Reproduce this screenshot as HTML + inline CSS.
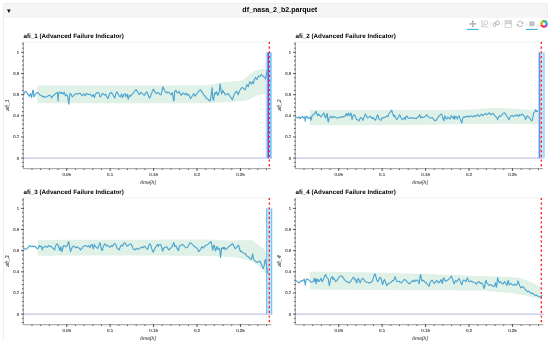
<!DOCTYPE html>
<html><head><meta charset="utf-8"><style>
html,body{margin:0;padding:0;background:#fff;width:550px;height:346px;overflow:hidden;font-family:"Liberation Sans",sans-serif}
.lb{position:absolute;left:3px;top:8px;width:1px;height:332px;background:#ededed}
.hdr{position:absolute;left:3px;top:3px;width:543px;height:14px;background:#f5f5f5;border:0.6px solid #ededed;border-bottom:none;border-radius:3px 3px 0 0}
.tri{position:absolute;left:5.8px;top:7.6px;font-size:6.3px;line-height:1;color:#111}
.htitle{position:absolute;left:242.3px;top:6.5px;font-size:7.1px;line-height:1;font-weight:bold;color:#000;white-space:nowrap}
.tx{font-size:4.4px;fill:#333;stroke:#333;stroke-width:0.1px;font-family:"Liberation Sans",sans-serif}
.ty{font-size:4.2px;fill:#333;stroke:#333;stroke-width:0.1px;font-family:"Liberation Sans",sans-serif}
.al{font-size:5.2px;fill:#444;stroke:#444;stroke-width:0.06px;font-style:italic;font-family:"Liberation Sans",sans-serif}
.yl{font-size:5.6px;letter-spacing:-0.2px}
.ti{font-size:6.25px;font-weight:bold;fill:#000;font-family:"Liberation Sans",sans-serif}
</style></head><body>
<div class="lb"></div>
<div class="hdr"></div>
<div class="tri">&#9660;</div>
<div class="htitle">df_nasa_2_b2.parquet</div>
<svg width="550" height="346" viewBox="0 0 550 346" style="position:absolute;left:0;top:0" text-rendering="geometricPrecision"><line x1="23.3" y1="41.9" x2="271.1" y2="41.9" stroke="#f1f1f1" stroke-width="0.9"/><polygon points="37.3,85.5 40.2,85.5 43.09,85.5 45.99,85.5 48.89,85.5 51.79,85.5 54.68,85.5 57.58,85.5 60.48,85.5 63.38,85.5 66.27,85.5 69.17,85.5 72.07,85.5 74.97,85.49 77.86,85.49 80.76,85.49 83.66,85.49 86.56,85.49 89.45,85.49 92.35,85.49 95.25,85.49 98.15,85.48 101.04,85.48 103.94,85.48 106.84,85.48 109.74,85.48 112.63,85.47 115.53,85.47 118.43,85.47 121.33,85.46 124.22,85.46 127.12,85.46 130.02,85.45 132.92,85.45 135.81,85.45 138.71,85.44 141.61,85.44 144.51,85.43 147.4,85.43 150.3,85.42 153.2,85.42 156.1,85.41 158.99,85.41 161.89,85.4 164.79,85.4 167.69,85.39 170.58,85.38 173.48,85.38 176.38,85.37 179.28,85.36 182.17,85.36 185.07,85.35 187.97,85.34 190.87,85.33 193.76,85.33 196.66,85.32 199.56,85.31 202.46,85.3 205.35,85.17 208.25,84.88 211.15,84.48 214.05,84 216.94,83.49 219.84,82.98 222.74,82.51 225.64,82.12 228.53,81.84 231.43,81.6 234.33,81.36 237.23,81.06 240.12,80.65 243.02,80 245.92,77.85 248.82,75.1 251.71,72.98 254.61,71.06 257.51,69.9 260.41,69.21 263.3,69.01 266.2,69.4 266.2,94 263.3,94.17 260.41,94.58 257.51,95.34 254.61,96.63 251.71,98.12 248.82,99.78 245.92,100.62 243.02,101.02 240.12,101.34 237.23,101.59 234.33,101.79 231.43,101.97 228.53,102.12 225.64,102.27 222.74,102.42 219.84,102.58 216.94,102.74 214.05,102.88 211.15,103 208.25,103.1 205.35,103.17 202.46,103.2 199.56,103.2 196.66,103.2 193.76,103.2 190.87,103.2 187.97,103.2 185.07,103.2 182.17,103.2 179.28,103.2 176.38,103.2 173.48,103.2 170.58,103.2 167.69,103.2 164.79,103.2 161.89,103.2 158.99,103.2 156.1,103.2 153.2,103.2 150.3,103.2 147.4,103.2 144.51,103.2 141.61,103.2 138.71,103.2 135.81,103.2 132.92,103.2 130.02,103.2 127.12,103.2 124.22,103.2 121.33,103.2 118.43,103.2 115.53,103.2 112.63,103.2 109.74,103.2 106.84,103.2 103.94,103.2 101.04,103.2 98.15,103.2 95.25,103.2 92.35,103.2 89.45,103.2 86.56,103.2 83.66,103.2 80.76,103.2 77.86,103.2 74.97,103.2 72.07,103.2 69.17,103.2 66.27,103.2 63.38,103.2 60.48,103.2 57.58,103.2 54.68,103.2 51.79,103.2 48.89,103.2 45.99,103.2 43.09,103.2 40.2,103.2 37.3,103.2" fill="#e0f1e7"/><line x1="23.3" y1="158.1" x2="272.15" y2="158.1" stroke="#c4c4e4" stroke-width="1.3"/><rect x="265.59" y="52.4" width="6.1" height="105.7" fill="#c7d9fa"/><rect x="267.49" y="52.4" width="1.5" height="105.7" fill="#3f62ee"/><rect x="269.79" y="52.4" width="1.8" height="105.7" fill="#7cc8f6"/><polyline points="23.69,94.66 24.82,91.84 25.95,91.27 27.07,92.97 28.2,94.66 29.33,96.35 30.46,93.53 31.58,97.47 32.71,90.71 33.27,90.15 33.84,96.91 34.97,94.66 36.09,93.53 37.22,92.4 38.35,92.97 39.47,94.66 40.6,95.22 41.73,95.78 42.86,96.91 43.98,96.35 45.11,97.47 46.24,96.91 47.37,96.35 48.49,95.78 49.62,95.22 50.75,96.35 51.88,98.04 53,95.78 54.13,94.66 55.26,94.09 56.39,92.97 57.51,92.4 58.08,100.86 58.64,93.53 59.77,91.84 60.9,93.53 62.02,92.4 63.15,94.09 64.28,92.4 65.4,95.78 66.53,94.66 67.66,96.35 68.79,104.24 69.91,93.53 71.04,94.09 72.17,96.91 73.3,95.78 74.42,94.66 75.55,94.09 76.68,93.53 77.81,94.09 78.93,93.53 80.06,92.97 81.19,94.66 82.32,95.78 83.13,94.66 83.44,94.09 84.25,94.09 85.38,95.78 86.51,93.53 87.64,94.09 88.76,94.66 89.89,94.09 91.02,95.22 92.15,96.35 93.27,94.66 94.4,97.47 95.53,94.09 96.66,92.97 97.78,92.4 98.91,92.97 100.04,96.91 101.17,95.78 102.29,93.53 103.42,94.09 104.55,95.22 105.68,94.09 106.8,96.91 107.93,98.6 109.06,95.22 110.18,92.97 111.31,92.4 112.44,94.09 113.57,95.78 114.69,98.04 115.82,93.53 116.95,91.84 118.08,94.09 119.2,95.78 120.33,96.91 121.46,94.09 122.59,97.47 123.71,94.66 124.84,93.53 125.97,96.91 127.1,94.09 128.22,99.17 129.35,95.22 130.48,96.35 131.61,94.66 132.73,93.53 133.86,92.4 134.99,90.71 136.11,89.58 137.24,91.27 138.37,93.53 139.5,94.66 140.62,92.4 141.75,92.97 142.88,94.09 144.25,95.29 145.38,93.6 146.51,91.91 147.64,93.04 148.76,96.98 149.89,98.11 151.02,94.73 152.15,91.91 153.27,89.09 154.4,90.78 155.53,93.04 156.66,93.6 157.78,92.47 158.91,93.04 160.04,94.73 161.17,94.73 162.29,89.09 162.86,86.84 163.42,87.97 164.55,90.78 165.68,91.91 166.8,93.04 167.93,91.91 169.06,92.47 170.18,93.6 171.31,94.73 172.44,92.47 173.57,100.93 174.13,100.37 174.69,91.35 175.82,90.22 176.95,92.47 178.08,93.04 179.2,91.35 180.33,94.17 181.46,95.29 182.59,93.04 183.71,93.6 184.84,94.73 185.97,93.04 187.1,95.29 188.22,94.17 189.35,95.86 190.48,98.68 191.61,96.98 192.73,95.29 193.86,93.6 194.99,96.42 196.11,94.73 197.24,93.04 198.37,91.91 199.5,90.22 200.62,89.66 201.75,91.91 202.88,93.04 203.45,94.71 204.89,96.16 206.34,98.33 207.79,99.05 209.23,100.5 209.95,101.22 210.68,99.05 211.4,93.27 212.12,87.48 212.85,99.05 213.57,100.5 214.29,94.71 215.02,92.54 215.74,93.99 216.46,91.82 217.91,95.44 219.36,91.1 220.08,83.86 220.8,88.93 221.53,93.99 222.25,92.54 222.97,90.37 223.7,92.54 224.42,92.54 225.14,94.71 226.59,94.71 228.03,93.27 229.48,95.44 230.93,97.6 232.37,99.77 233.1,97.6 233.82,95.44 235.27,92.54 236.71,91.1 238.16,94.71 238.88,92.54 239.6,91.1 241.05,88.2 242.5,87.48 243.94,88.93 245.39,89.65 246.11,86.76 246.84,84.59 248.28,86.76 249.73,81.7 251.18,83.86 252.62,81.7 253.35,83.86 254.07,80.25 255.51,77.36 256.96,79.53 258.41,75.91 259.85,76.63 261.3,74.46 262.75,75.91 264.19,77.36 265.64,78.8 266.36,74.46 267.09,70.85 267.81,69.4" fill="none" stroke="#4aa3d0" stroke-width="1.1" stroke-linejoin="round"/><line x1="269.29" y1="41.9" x2="269.29" y2="168.7" stroke="#ff1a1a" stroke-width="1.3" stroke-dasharray="2.2,2.5"/><line x1="23.3" y1="41.9" x2="23.3" y2="168.7" stroke="#7a7a7a" stroke-width="0.75"/><line x1="23.3" y1="168.7" x2="271.1" y2="168.7" stroke="#7a7a7a" stroke-width="0.75"/><line x1="22" y1="166.56" x2="23.5" y2="166.56" stroke="#505050" stroke-width="0.95"/><line x1="22" y1="162.33" x2="23.5" y2="162.33" stroke="#505050" stroke-width="0.95"/><line x1="21" y1="158.1" x2="24.1" y2="158.1" stroke="#505050" stroke-width="0.95"/><text x="19" y="159.6" text-anchor="end" class="ty">0</text><line x1="22" y1="153.87" x2="23.5" y2="153.87" stroke="#505050" stroke-width="0.95"/><line x1="22" y1="149.64" x2="23.5" y2="149.64" stroke="#505050" stroke-width="0.95"/><line x1="22" y1="145.42" x2="23.5" y2="145.42" stroke="#505050" stroke-width="0.95"/><line x1="22" y1="141.19" x2="23.5" y2="141.19" stroke="#505050" stroke-width="0.95"/><line x1="21" y1="136.96" x2="24.1" y2="136.96" stroke="#505050" stroke-width="0.95"/><text x="19" y="138.46" text-anchor="end" class="ty">0.2</text><line x1="22" y1="132.73" x2="23.5" y2="132.73" stroke="#505050" stroke-width="0.95"/><line x1="22" y1="128.5" x2="23.5" y2="128.5" stroke="#505050" stroke-width="0.95"/><line x1="22" y1="124.28" x2="23.5" y2="124.28" stroke="#505050" stroke-width="0.95"/><line x1="22" y1="120.05" x2="23.5" y2="120.05" stroke="#505050" stroke-width="0.95"/><line x1="21" y1="115.82" x2="24.1" y2="115.82" stroke="#505050" stroke-width="0.95"/><text x="19" y="117.32" text-anchor="end" class="ty">0.4</text><line x1="22" y1="111.59" x2="23.5" y2="111.59" stroke="#505050" stroke-width="0.95"/><line x1="22" y1="107.36" x2="23.5" y2="107.36" stroke="#505050" stroke-width="0.95"/><line x1="22" y1="103.14" x2="23.5" y2="103.14" stroke="#505050" stroke-width="0.95"/><line x1="22" y1="98.91" x2="23.5" y2="98.91" stroke="#505050" stroke-width="0.95"/><line x1="21" y1="94.68" x2="24.1" y2="94.68" stroke="#505050" stroke-width="0.95"/><text x="19" y="96.18" text-anchor="end" class="ty">0.6</text><line x1="22" y1="90.45" x2="23.5" y2="90.45" stroke="#505050" stroke-width="0.95"/><line x1="22" y1="86.22" x2="23.5" y2="86.22" stroke="#505050" stroke-width="0.95"/><line x1="22" y1="82" x2="23.5" y2="82" stroke="#505050" stroke-width="0.95"/><line x1="22" y1="77.77" x2="23.5" y2="77.77" stroke="#505050" stroke-width="0.95"/><line x1="21" y1="73.54" x2="24.1" y2="73.54" stroke="#505050" stroke-width="0.95"/><text x="19" y="75.04" text-anchor="end" class="ty">0.8</text><line x1="22" y1="69.31" x2="23.5" y2="69.31" stroke="#505050" stroke-width="0.95"/><line x1="22" y1="65.08" x2="23.5" y2="65.08" stroke="#505050" stroke-width="0.95"/><line x1="22" y1="60.86" x2="23.5" y2="60.86" stroke="#505050" stroke-width="0.95"/><line x1="22" y1="56.63" x2="23.5" y2="56.63" stroke="#505050" stroke-width="0.95"/><line x1="21" y1="52.4" x2="24.1" y2="52.4" stroke="#505050" stroke-width="0.95"/><text x="19" y="53.9" text-anchor="end" class="ty">1</text><line x1="22" y1="48.17" x2="23.5" y2="48.17" stroke="#505050" stroke-width="0.95"/><line x1="22" y1="43.94" x2="23.5" y2="43.94" stroke="#505050" stroke-width="0.95"/><line x1="31.99" y1="168.7" x2="31.99" y2="170" stroke="#505050" stroke-width="0.95"/><line x1="40.67" y1="168.7" x2="40.67" y2="170" stroke="#505050" stroke-width="0.95"/><line x1="49.36" y1="168.7" x2="49.36" y2="170" stroke="#505050" stroke-width="0.95"/><line x1="58.04" y1="168.7" x2="58.04" y2="170" stroke="#505050" stroke-width="0.95"/><line x1="66.73" y1="167.9" x2="66.73" y2="171" stroke="#505050" stroke-width="0.95"/><text x="66.73" y="175.5" text-anchor="middle" class="tx">0.05</text><line x1="75.42" y1="168.7" x2="75.42" y2="170" stroke="#505050" stroke-width="0.95"/><line x1="84.1" y1="168.7" x2="84.1" y2="170" stroke="#505050" stroke-width="0.95"/><line x1="92.79" y1="168.7" x2="92.79" y2="170" stroke="#505050" stroke-width="0.95"/><line x1="101.47" y1="168.7" x2="101.47" y2="170" stroke="#505050" stroke-width="0.95"/><line x1="110.16" y1="167.9" x2="110.16" y2="171" stroke="#505050" stroke-width="0.95"/><text x="110.16" y="175.5" text-anchor="middle" class="tx">0.1</text><line x1="118.85" y1="168.7" x2="118.85" y2="170" stroke="#505050" stroke-width="0.95"/><line x1="127.53" y1="168.7" x2="127.53" y2="170" stroke="#505050" stroke-width="0.95"/><line x1="136.22" y1="168.7" x2="136.22" y2="170" stroke="#505050" stroke-width="0.95"/><line x1="144.9" y1="168.7" x2="144.9" y2="170" stroke="#505050" stroke-width="0.95"/><line x1="153.59" y1="167.9" x2="153.59" y2="171" stroke="#505050" stroke-width="0.95"/><text x="153.59" y="175.5" text-anchor="middle" class="tx">0.15</text><line x1="162.28" y1="168.7" x2="162.28" y2="170" stroke="#505050" stroke-width="0.95"/><line x1="170.96" y1="168.7" x2="170.96" y2="170" stroke="#505050" stroke-width="0.95"/><line x1="179.65" y1="168.7" x2="179.65" y2="170" stroke="#505050" stroke-width="0.95"/><line x1="188.33" y1="168.7" x2="188.33" y2="170" stroke="#505050" stroke-width="0.95"/><line x1="197.02" y1="167.9" x2="197.02" y2="171" stroke="#505050" stroke-width="0.95"/><text x="197.02" y="175.5" text-anchor="middle" class="tx">0.2</text><line x1="205.71" y1="168.7" x2="205.71" y2="170" stroke="#505050" stroke-width="0.95"/><line x1="214.39" y1="168.7" x2="214.39" y2="170" stroke="#505050" stroke-width="0.95"/><line x1="223.08" y1="168.7" x2="223.08" y2="170" stroke="#505050" stroke-width="0.95"/><line x1="231.76" y1="168.7" x2="231.76" y2="170" stroke="#505050" stroke-width="0.95"/><line x1="240.45" y1="167.9" x2="240.45" y2="171" stroke="#505050" stroke-width="0.95"/><text x="240.45" y="175.5" text-anchor="middle" class="tx">0.25</text><line x1="249.14" y1="168.7" x2="249.14" y2="170" stroke="#505050" stroke-width="0.95"/><line x1="257.82" y1="168.7" x2="257.82" y2="170" stroke="#505050" stroke-width="0.95"/><line x1="266.51" y1="168.7" x2="266.51" y2="170" stroke="#505050" stroke-width="0.95"/><text x="148.1" y="184.1" text-anchor="middle" class="al">time[h]</text><text x="9.2" y="105.25" text-anchor="middle" class="al yl" transform="rotate(-90 9.2 105.25)">afi_1</text><text x="23.5" y="37.7" class="ti">afi_1 (Advanced Failure Indicator)</text><line x1="295.3" y1="41.9" x2="543.1" y2="41.9" stroke="#f1f1f1" stroke-width="0.9"/><polygon points="309.8,109.9 312.69,109.92 315.58,109.93 318.48,109.95 321.37,109.96 324.26,109.97 327.15,109.99 330.05,110 332.94,110.01 335.83,110.02 338.72,110.03 341.62,110.04 344.51,110.04 347.4,110.05 350.29,110.06 353.19,110.06 356.08,110.07 358.97,110.07 361.86,110.08 364.76,110.08 367.65,110.08 370.54,110.09 373.43,110.09 376.33,110.09 379.22,110.09 382.11,110.1 385,110.1 387.89,110.1 390.79,110.1 393.68,110.1 396.57,110.1 399.46,110.1 402.36,110.1 405.25,110.1 408.14,110.1 411.03,110.1 413.93,110.1 416.82,110.09 419.71,110.09 422.6,110.08 425.5,110.07 428.39,110.06 431.28,110.04 434.17,110.03 437.07,110.01 439.96,109.98 442.85,109.96 445.74,109.93 448.64,109.9 451.53,109.87 454.42,109.83 457.31,109.79 460.21,109.75 463.1,109.7 465.99,109.65 468.88,109.6 471.77,109.55 474.67,109.48 477.56,109.23 480.45,108.85 483.34,108.49 486.24,108.3 489.13,108.3 492.02,108.3 494.91,108.3 497.81,108.3 500.7,108.3 503.59,108.3 506.48,108.3 509.38,108.38 512.27,108.54 515.16,108.75 518.05,108.99 520.95,109.23 523.84,109.44 526.73,109.6 529.62,109.76 532.52,109.91 535.41,110.06 538.3,110.2 538.3,124.4 535.41,124.31 532.52,124.23 529.62,124.15 526.73,124.08 523.84,124.01 520.95,123.95 518.05,123.9 515.16,123.86 512.27,123.83 509.38,123.81 506.48,123.8 503.59,123.8 500.7,123.81 497.81,123.82 494.91,123.83 492.02,123.85 489.13,123.87 486.24,123.89 483.34,123.92 480.45,123.94 477.56,123.97 474.67,123.99 471.77,124.02 468.88,124.05 465.99,124.09 463.1,124.14 460.21,124.18 457.31,124.23 454.42,124.29 451.53,124.35 448.64,124.4 445.74,124.46 442.85,124.52 439.96,124.58 437.07,124.64 434.17,124.69 431.28,124.75 428.39,124.8 425.5,124.84 422.6,124.89 419.71,124.92 416.82,124.95 413.93,124.98 411.03,125 408.14,125.01 405.25,125.02 402.36,125.03 399.46,125.04 396.57,125.05 393.68,125.06 390.79,125.07 387.89,125.08 385,125.08 382.11,125.09 379.22,125.1 376.33,125.11 373.43,125.12 370.54,125.12 367.65,125.13 364.76,125.14 361.86,125.14 358.97,125.15 356.08,125.15 353.19,125.16 350.29,125.17 347.4,125.17 344.51,125.17 341.62,125.18 338.72,125.18 335.83,125.19 332.94,125.19 330.05,125.19 327.15,125.19 324.26,125.2 321.37,125.2 318.48,125.2 315.58,125.2 312.69,125.2 309.8,125.2" fill="#e0f1e7"/><line x1="295.3" y1="158.1" x2="544.15" y2="158.1" stroke="#c4c4e4" stroke-width="1.3"/><rect x="538.69" y="52.4" width="5.8" height="105.7" fill="#cfe4fa"/><rect x="538.69" y="52.4" width="1.5" height="105.7" fill="#5a8ef0"/><rect x="543.49" y="52.4" width="1" height="105.7" fill="#7fd3f5"/><polyline points="295.69,116.91 296.82,117.47 297.95,118.04 299.07,116.91 300.2,118.6 301.33,117.47 302.46,116.35 303.58,118.04 304.71,116.91 305.27,121.42 305.84,116.91 306.97,116.35 308.09,118.6 309.22,118.04 310.35,116.91 310.91,120.29 311.47,118.6 312.04,115.78 313.17,114.66 314.29,114.09 315.42,112.4 315.98,111.27 316.55,112.97 317.68,115.78 318.8,114.09 319.93,115.78 321.06,116.91 322.18,115.22 323.31,113.53 323.88,112.97 324.44,114.66 325.57,118.04 326.69,114.09 327.26,113.53 327.82,120.86 328.39,121.98 328.95,118.6 330.08,116.91 331.2,116.35 332.33,118.04 333.46,116.35 334.59,116.91 335.71,117.47 336.84,118.04 337.97,118.04 339.1,117.47 340.22,116.91 341.35,117.47 342.48,116.35 343.61,116.91 344.73,116.35 345.86,114.66 346.42,113.53 346.99,115.78 348.11,113.53 348.68,112.97 349.24,115.78 350.37,114.66 350.93,112.97 351.5,115.78 352.06,119.73 352.62,116.91 353.75,114.66 354.88,115.22 356.25,119.17 357.38,119.73 358.51,120.29 359.07,120.86 359.64,119.17 360.76,117.47 361.89,118.6 363.02,120.29 364.15,116.91 365.27,114.09 365.84,114.66 366.4,116.35 367.53,118.04 368.66,117.47 369.78,116.35 370.91,116.91 372.04,118.6 373.17,117.47 374.29,119.17 375.42,120.29 376.55,117.47 377.11,115.78 377.68,114.66 378.24,116.35 378.8,118.6 379.93,119.73 381.06,120.29 381.62,119.17 382.18,117.47 383.31,118.04 384.44,117.47 385.57,116.91 386.69,115.78 387.82,116.91 388.95,113.53 390.08,112.4 391.2,110.71 391.77,110.15 392.33,112.4 393.46,115.78 394.02,116.35 394.59,115.22 395.71,118.04 396.84,119.73 397.97,118.04 399.1,115.78 399.66,114.66 400.22,115.78 401.35,118.6 402.48,119.73 403.61,118.6 404.73,117.47 405.3,119.73 405.86,116.91 406.99,115.78 408.11,118.04 409.24,118.6 410.37,118.04 411.5,117.47 412.62,118.04 413.75,118.6 414.88,118.04 416.25,118.6 417.38,117.47 418.51,116.91 419.64,114.66 420.2,115.78 420.76,118.04 421.89,116.91 423.02,117.47 424.15,116.91 425.27,116.35 426.4,115.22 426.97,114.66 427.53,115.78 428.66,116.91 429.78,118.04 430.91,118.04 432.04,117.47 433.17,118.6 434.29,120.29 435.42,120.86 436.55,119.73 437.68,118.04 438.8,116.35 439.93,115.22 441.06,114.09 441.62,114.09 442.18,115.78 443.31,119.73 443.88,120.86 444.44,116.91 445,115.78 445.57,118.04 446.69,119.17 447.82,116.91 448.95,118.04 450.08,119.17 451.2,115.78 452.33,116.91 453.46,118.6 454.02,115.78 454.59,119.17 455.71,116.35 456.84,117.47 457.4,119.17 457.97,116.91 459.1,115.78 460.22,119.17 461.35,121.98 461.91,123.11 462.48,118.6 463.61,116.91 464.73,117.47 465.86,116.35 466.99,116.91 468.11,115.78 469.24,116.91 470.37,116.35 471.5,115.78 472.62,116.91 473.75,115.78 474.64,115.91 475.27,116.55 476.55,115.27 477.82,114.64 479.09,116.55 480.36,115.27 481.64,114 482.91,115.91 484.18,114.64 485.45,113.36 486.73,114.64 488,114 489.27,112.73 490.55,114.64 491.82,114 493.09,113.36 494.36,115.27 495.64,116.55 496.91,117.82 497.55,119.73 498.18,117.82 499.46,115.91 500.73,116.55 502,114.64 503.27,113.36 504.55,112.73 505.82,114.64 507.09,116.55 508.36,118.45 509,119.73 509.64,117.82 510.91,115.91 512.18,115.27 513.46,116.55 514.73,115.27 516,115.91 517.27,114.64 518.55,116.55 519.82,114.64 521.09,115.27 522.36,114 523.64,115.27 524.91,117.18 525.55,119.73 526.18,117.82 527.46,115.91 528.73,117.18 530,118.45 531.27,120.36 531.91,121 532.55,119.09 533.82,112.73 535.09,111.45 535.73,109.55 536.36,111.45 537,110.82 537.64,112.09" fill="none" stroke="#4aa3d0" stroke-width="1.1" stroke-linejoin="round"/><line x1="541.29" y1="41.9" x2="541.29" y2="168.7" stroke="#ff1a1a" stroke-width="1.3" stroke-dasharray="2.2,2.5"/><line x1="295.3" y1="41.9" x2="295.3" y2="168.7" stroke="#7a7a7a" stroke-width="0.75"/><line x1="295.3" y1="168.7" x2="543.1" y2="168.7" stroke="#7a7a7a" stroke-width="0.75"/><line x1="294" y1="166.56" x2="295.5" y2="166.56" stroke="#505050" stroke-width="0.95"/><line x1="294" y1="162.33" x2="295.5" y2="162.33" stroke="#505050" stroke-width="0.95"/><line x1="293" y1="158.1" x2="296.1" y2="158.1" stroke="#505050" stroke-width="0.95"/><text x="291" y="159.6" text-anchor="end" class="ty">0</text><line x1="294" y1="153.87" x2="295.5" y2="153.87" stroke="#505050" stroke-width="0.95"/><line x1="294" y1="149.64" x2="295.5" y2="149.64" stroke="#505050" stroke-width="0.95"/><line x1="294" y1="145.42" x2="295.5" y2="145.42" stroke="#505050" stroke-width="0.95"/><line x1="294" y1="141.19" x2="295.5" y2="141.19" stroke="#505050" stroke-width="0.95"/><line x1="293" y1="136.96" x2="296.1" y2="136.96" stroke="#505050" stroke-width="0.95"/><text x="291" y="138.46" text-anchor="end" class="ty">0.2</text><line x1="294" y1="132.73" x2="295.5" y2="132.73" stroke="#505050" stroke-width="0.95"/><line x1="294" y1="128.5" x2="295.5" y2="128.5" stroke="#505050" stroke-width="0.95"/><line x1="294" y1="124.28" x2="295.5" y2="124.28" stroke="#505050" stroke-width="0.95"/><line x1="294" y1="120.05" x2="295.5" y2="120.05" stroke="#505050" stroke-width="0.95"/><line x1="293" y1="115.82" x2="296.1" y2="115.82" stroke="#505050" stroke-width="0.95"/><text x="291" y="117.32" text-anchor="end" class="ty">0.4</text><line x1="294" y1="111.59" x2="295.5" y2="111.59" stroke="#505050" stroke-width="0.95"/><line x1="294" y1="107.36" x2="295.5" y2="107.36" stroke="#505050" stroke-width="0.95"/><line x1="294" y1="103.14" x2="295.5" y2="103.14" stroke="#505050" stroke-width="0.95"/><line x1="294" y1="98.91" x2="295.5" y2="98.91" stroke="#505050" stroke-width="0.95"/><line x1="293" y1="94.68" x2="296.1" y2="94.68" stroke="#505050" stroke-width="0.95"/><text x="291" y="96.18" text-anchor="end" class="ty">0.6</text><line x1="294" y1="90.45" x2="295.5" y2="90.45" stroke="#505050" stroke-width="0.95"/><line x1="294" y1="86.22" x2="295.5" y2="86.22" stroke="#505050" stroke-width="0.95"/><line x1="294" y1="82" x2="295.5" y2="82" stroke="#505050" stroke-width="0.95"/><line x1="294" y1="77.77" x2="295.5" y2="77.77" stroke="#505050" stroke-width="0.95"/><line x1="293" y1="73.54" x2="296.1" y2="73.54" stroke="#505050" stroke-width="0.95"/><text x="291" y="75.04" text-anchor="end" class="ty">0.8</text><line x1="294" y1="69.31" x2="295.5" y2="69.31" stroke="#505050" stroke-width="0.95"/><line x1="294" y1="65.08" x2="295.5" y2="65.08" stroke="#505050" stroke-width="0.95"/><line x1="294" y1="60.86" x2="295.5" y2="60.86" stroke="#505050" stroke-width="0.95"/><line x1="294" y1="56.63" x2="295.5" y2="56.63" stroke="#505050" stroke-width="0.95"/><line x1="293" y1="52.4" x2="296.1" y2="52.4" stroke="#505050" stroke-width="0.95"/><text x="291" y="53.9" text-anchor="end" class="ty">1</text><line x1="294" y1="48.17" x2="295.5" y2="48.17" stroke="#505050" stroke-width="0.95"/><line x1="294" y1="43.94" x2="295.5" y2="43.94" stroke="#505050" stroke-width="0.95"/><line x1="303.99" y1="168.7" x2="303.99" y2="170" stroke="#505050" stroke-width="0.95"/><line x1="312.67" y1="168.7" x2="312.67" y2="170" stroke="#505050" stroke-width="0.95"/><line x1="321.36" y1="168.7" x2="321.36" y2="170" stroke="#505050" stroke-width="0.95"/><line x1="330.04" y1="168.7" x2="330.04" y2="170" stroke="#505050" stroke-width="0.95"/><line x1="338.73" y1="167.9" x2="338.73" y2="171" stroke="#505050" stroke-width="0.95"/><text x="338.73" y="175.5" text-anchor="middle" class="tx">0.05</text><line x1="347.42" y1="168.7" x2="347.42" y2="170" stroke="#505050" stroke-width="0.95"/><line x1="356.1" y1="168.7" x2="356.1" y2="170" stroke="#505050" stroke-width="0.95"/><line x1="364.79" y1="168.7" x2="364.79" y2="170" stroke="#505050" stroke-width="0.95"/><line x1="373.47" y1="168.7" x2="373.47" y2="170" stroke="#505050" stroke-width="0.95"/><line x1="382.16" y1="167.9" x2="382.16" y2="171" stroke="#505050" stroke-width="0.95"/><text x="382.16" y="175.5" text-anchor="middle" class="tx">0.1</text><line x1="390.85" y1="168.7" x2="390.85" y2="170" stroke="#505050" stroke-width="0.95"/><line x1="399.53" y1="168.7" x2="399.53" y2="170" stroke="#505050" stroke-width="0.95"/><line x1="408.22" y1="168.7" x2="408.22" y2="170" stroke="#505050" stroke-width="0.95"/><line x1="416.9" y1="168.7" x2="416.9" y2="170" stroke="#505050" stroke-width="0.95"/><line x1="425.59" y1="167.9" x2="425.59" y2="171" stroke="#505050" stroke-width="0.95"/><text x="425.59" y="175.5" text-anchor="middle" class="tx">0.15</text><line x1="434.28" y1="168.7" x2="434.28" y2="170" stroke="#505050" stroke-width="0.95"/><line x1="442.96" y1="168.7" x2="442.96" y2="170" stroke="#505050" stroke-width="0.95"/><line x1="451.65" y1="168.7" x2="451.65" y2="170" stroke="#505050" stroke-width="0.95"/><line x1="460.33" y1="168.7" x2="460.33" y2="170" stroke="#505050" stroke-width="0.95"/><line x1="469.02" y1="167.9" x2="469.02" y2="171" stroke="#505050" stroke-width="0.95"/><text x="469.02" y="175.5" text-anchor="middle" class="tx">0.2</text><line x1="477.71" y1="168.7" x2="477.71" y2="170" stroke="#505050" stroke-width="0.95"/><line x1="486.39" y1="168.7" x2="486.39" y2="170" stroke="#505050" stroke-width="0.95"/><line x1="495.08" y1="168.7" x2="495.08" y2="170" stroke="#505050" stroke-width="0.95"/><line x1="503.76" y1="168.7" x2="503.76" y2="170" stroke="#505050" stroke-width="0.95"/><line x1="512.45" y1="167.9" x2="512.45" y2="171" stroke="#505050" stroke-width="0.95"/><text x="512.45" y="175.5" text-anchor="middle" class="tx">0.25</text><line x1="521.14" y1="168.7" x2="521.14" y2="170" stroke="#505050" stroke-width="0.95"/><line x1="529.82" y1="168.7" x2="529.82" y2="170" stroke="#505050" stroke-width="0.95"/><line x1="538.51" y1="168.7" x2="538.51" y2="170" stroke="#505050" stroke-width="0.95"/><text x="420.1" y="184.1" text-anchor="middle" class="al">time[h]</text><text x="281.2" y="105.25" text-anchor="middle" class="al yl" transform="rotate(-90 281.2 105.25)">afi_2</text><text x="295.5" y="37.7" class="ti">afi_2 (Advanced Failure Indicator)</text><line x1="23.3" y1="197.9" x2="271.1" y2="197.9" stroke="#f1f1f1" stroke-width="0.9"/><polygon points="37.8,239.9 40.69,239.9 43.58,239.89 46.47,239.89 49.36,239.89 52.26,239.88 55.15,239.88 58.04,239.87 60.93,239.87 63.82,239.86 66.71,239.86 69.6,239.85 72.49,239.85 75.38,239.84 78.28,239.84 81.17,239.83 84.06,239.83 86.95,239.82 89.84,239.81 92.73,239.81 95.62,239.8 98.51,239.8 101.41,239.79 104.3,239.78 107.19,239.78 110.08,239.77 112.97,239.76 115.86,239.76 118.75,239.75 121.64,239.74 124.53,239.74 127.43,239.73 130.32,239.72 133.21,239.72 136.1,239.71 138.99,239.7 141.88,239.7 144.77,239.69 147.66,239.68 150.55,239.67 153.45,239.66 156.34,239.64 159.23,239.63 162.12,239.62 165.01,239.61 167.9,239.59 170.79,239.58 173.68,239.57 176.57,239.56 179.47,239.55 182.36,239.54 185.25,239.53 188.14,239.52 191.03,239.51 193.92,239.51 196.81,239.5 199.7,239.5 202.59,239.5 205.49,239.54 208.38,239.62 211.27,239.73 214.16,239.86 217.05,240 219.94,240.14 222.83,240.25 225.72,240.34 228.62,240.39 231.51,240.4 234.4,240.38 237.29,240.34 240.18,240.3 243.07,240.26 245.96,240.23 248.85,240.2 251.74,240.34 254.64,242 257.53,244.31 260.42,246.41 263.31,248.77 266.2,251.5 266.2,273.5 263.31,270.95 260.42,267.77 257.53,265.1 254.64,263.15 251.74,261.6 248.85,260.47 245.96,259.59 243.07,258.93 240.18,258.36 237.29,257.85 234.4,257.43 231.51,257.11 228.62,256.92 225.72,256.75 222.83,256.61 219.94,256.48 217.05,256.37 214.16,256.27 211.27,256.19 208.38,256.12 205.49,256.06 202.59,256.01 199.7,255.97 196.81,255.93 193.92,255.89 191.03,255.85 188.14,255.82 185.25,255.78 182.36,255.75 179.47,255.72 176.57,255.69 173.68,255.66 170.79,255.64 167.9,255.61 165.01,255.59 162.12,255.57 159.23,255.56 156.34,255.54 153.45,255.53 150.55,255.52 147.66,255.51 144.77,255.5 141.88,255.5 138.99,255.5 136.1,255.5 133.21,255.5 130.32,255.5 127.43,255.5 124.53,255.5 121.64,255.5 118.75,255.5 115.86,255.5 112.97,255.5 110.08,255.51 107.19,255.51 104.3,255.51 101.41,255.51 98.51,255.51 95.62,255.52 92.73,255.52 89.84,255.52 86.95,255.53 84.06,255.53 81.17,255.54 78.28,255.54 75.38,255.55 72.49,255.56 69.6,255.57 66.71,255.57 63.82,255.58 60.93,255.59 58.04,255.6 55.15,255.61 52.26,255.63 49.36,255.64 46.47,255.65 43.58,255.67 40.69,255.68 37.8,255.7" fill="#e0f1e7"/><line x1="23.3" y1="314.1" x2="272.15" y2="314.1" stroke="#c4c4e4" stroke-width="1.3"/><rect x="265.99" y="208.4" width="6.2" height="105.7" fill="#d2dcf8"/><rect x="265.99" y="208.4" width="1.2" height="105.7" fill="#5fd3f5"/><rect x="270.99" y="208.4" width="1.2" height="105.7" fill="#5fd3f5"/><polyline points="23.69,247.78 24.82,248.91 25.95,249.47 27.07,248.35 28.2,247.78 29.33,245.53 30.46,246.09 31.58,246.66 32.71,246.09 33.84,246.66 34.97,246.09 36.09,247.22 37.22,248.91 38.35,247.78 39.47,245.53 40.04,246.66 41.17,246.09 41.73,247.22 42.29,250.04 42.86,247.78 43.98,247.22 45.11,246.09 46.24,246.66 47.37,247.22 48.49,245.53 49.62,246.66 50.75,246.09 51.88,247.22 53,248.35 54.13,249.47 54.69,250.04 55.26,246.66 56.39,244.4 57.51,243.84 58.08,245.53 59.2,248.35 59.77,250.6 60.33,247.78 60.9,246.66 61.46,250.6 62.02,251.73 62.59,248.91 63.71,245.53 64.84,246.09 65.97,246.66 67.1,245.53 68.22,242.71 68.79,241.58 69.35,245.53 70.48,251.73 71.61,248.35 72.73,246.66 73.86,246.09 74.99,247.22 76.11,247.78 77.24,246.66 78.37,247.78 79.5,248.35 80.62,250.04 81.75,248.35 82.56,247.78 82.88,246.66 84.25,246.09 85.38,245.53 86.51,246.09 87.64,246.66 88.76,245.53 89.89,247.78 91.02,244.97 92.15,244.4 93.27,248.91 93.84,246.66 94.4,244.4 95.53,246.66 96.66,247.78 97.78,248.35 98.91,245.53 100.04,242.71 100.6,244.4 101.17,248.91 102.29,250.6 103.42,246.66 104.55,243.84 105.68,244.4 106.8,246.09 107.93,245.53 109.06,246.66 110.18,247.22 111.31,245.53 112.44,246.66 113.57,244.4 114.69,243.27 115.82,244.97 116.95,247.78 118.08,248.91 119.2,250.04 120.33,246.66 121.46,244.97 122.59,246.09 123.71,243.27 124.84,242.71 125.97,244.4 127.1,246.09 128.22,245.53 129.35,244.4 130.48,243.84 131.61,244.97 132.73,247.78 133.86,249.47 134.99,250.04 136.11,248.35 137.24,248.91 138.37,249.47 139.5,248.35 140.62,247.78 141.75,247.22 142.56,247.22 142.88,247.78 144.25,246.09 145.38,247.22 146.51,248.35 147.64,249.47 148.76,245.53 149.89,243.84 151.02,246.09 152.15,250.04 153.27,252.29 154.4,249.47 155.53,247.22 156.66,245.53 157.78,244.4 158.35,246.66 158.91,244.97 160.04,244.4 161.17,245.53 162.29,250.04 162.86,251.17 163.42,248.35 164.55,247.78 165.68,247.22 166.8,246.66 167.93,248.91 169.06,250.04 170.18,248.35 171.31,247.78 172.44,246.09 173.57,242.71 174.13,243.27 174.69,246.66 175.82,245.53 176.95,248.35 178.08,250.04 178.64,250.6 179.2,246.66 180.33,245.53 181.46,244.97 182.59,244.4 183.71,245.53 184.84,246.66 185.97,247.78 187.1,247.78 188.22,246.09 189.35,243.84 190.48,242.71 191.61,243.84 192.73,244.97 193.86,246.09 194.99,246.66 196.11,247.78 197.24,248.35 198.37,251.17 198.93,251.73 199.5,250.6 200.62,249.47 201.75,246.66 202.72,247.65 203.45,248.08 204.89,245.91 206.34,245.19 207.79,244.46 209.23,243.02 210.68,241.57 211.4,242.29 212.12,247.36 212.85,250.25 213.57,245.91 214.29,245.19 215.02,248.8 215.74,250.97 216.46,247.36 217.19,246.63 217.91,249.53 219.36,248.08 220.08,251.7 220.51,257.48 221.09,253.14 221.53,248.08 222.25,248.8 222.97,247.36 223.7,248.8 224.42,247.36 225.14,249.53 226.59,248.8 228.03,247.36 229.48,245.91 230.93,245.19 232.37,243.74 233.1,244.46 233.82,245.91 235.27,248.8 236.71,247.36 238.16,245.19 238.88,245.91 239.6,248.8 240.33,251.7 241.05,250.97 242.5,252.42 243.94,253.14 245.39,253.86 246.84,256.03 248.28,256.76 249.73,258.2 251.18,259.65 251.9,257.48 252.62,253.86 253.35,258.2 254.07,260.37 255.51,261.1 256.96,262.54 258.41,261.82 259.85,261.1 261.3,263.99 262.75,267.6 263.47,268.33 264.19,265.44 264.92,260.37 265.64,259.65 266.36,264.71 267.09,269.77 267.81,273.39" fill="none" stroke="#4aa3d0" stroke-width="1.1" stroke-linejoin="round"/><line x1="269.29" y1="197.9" x2="269.29" y2="324.7" stroke="#ff1a1a" stroke-width="1.3" stroke-dasharray="2.2,2.5"/><line x1="23.3" y1="197.9" x2="23.3" y2="324.7" stroke="#7a7a7a" stroke-width="0.75"/><line x1="23.3" y1="324.7" x2="271.1" y2="324.7" stroke="#7a7a7a" stroke-width="0.75"/><line x1="22" y1="322.56" x2="23.5" y2="322.56" stroke="#505050" stroke-width="0.95"/><line x1="22" y1="318.33" x2="23.5" y2="318.33" stroke="#505050" stroke-width="0.95"/><line x1="21" y1="314.1" x2="24.1" y2="314.1" stroke="#505050" stroke-width="0.95"/><text x="19" y="315.6" text-anchor="end" class="ty">0</text><line x1="22" y1="309.87" x2="23.5" y2="309.87" stroke="#505050" stroke-width="0.95"/><line x1="22" y1="305.64" x2="23.5" y2="305.64" stroke="#505050" stroke-width="0.95"/><line x1="22" y1="301.42" x2="23.5" y2="301.42" stroke="#505050" stroke-width="0.95"/><line x1="22" y1="297.19" x2="23.5" y2="297.19" stroke="#505050" stroke-width="0.95"/><line x1="21" y1="292.96" x2="24.1" y2="292.96" stroke="#505050" stroke-width="0.95"/><text x="19" y="294.46" text-anchor="end" class="ty">0.2</text><line x1="22" y1="288.73" x2="23.5" y2="288.73" stroke="#505050" stroke-width="0.95"/><line x1="22" y1="284.5" x2="23.5" y2="284.5" stroke="#505050" stroke-width="0.95"/><line x1="22" y1="280.28" x2="23.5" y2="280.28" stroke="#505050" stroke-width="0.95"/><line x1="22" y1="276.05" x2="23.5" y2="276.05" stroke="#505050" stroke-width="0.95"/><line x1="21" y1="271.82" x2="24.1" y2="271.82" stroke="#505050" stroke-width="0.95"/><text x="19" y="273.32" text-anchor="end" class="ty">0.4</text><line x1="22" y1="267.59" x2="23.5" y2="267.59" stroke="#505050" stroke-width="0.95"/><line x1="22" y1="263.36" x2="23.5" y2="263.36" stroke="#505050" stroke-width="0.95"/><line x1="22" y1="259.14" x2="23.5" y2="259.14" stroke="#505050" stroke-width="0.95"/><line x1="22" y1="254.91" x2="23.5" y2="254.91" stroke="#505050" stroke-width="0.95"/><line x1="21" y1="250.68" x2="24.1" y2="250.68" stroke="#505050" stroke-width="0.95"/><text x="19" y="252.18" text-anchor="end" class="ty">0.6</text><line x1="22" y1="246.45" x2="23.5" y2="246.45" stroke="#505050" stroke-width="0.95"/><line x1="22" y1="242.22" x2="23.5" y2="242.22" stroke="#505050" stroke-width="0.95"/><line x1="22" y1="238" x2="23.5" y2="238" stroke="#505050" stroke-width="0.95"/><line x1="22" y1="233.77" x2="23.5" y2="233.77" stroke="#505050" stroke-width="0.95"/><line x1="21" y1="229.54" x2="24.1" y2="229.54" stroke="#505050" stroke-width="0.95"/><text x="19" y="231.04" text-anchor="end" class="ty">0.8</text><line x1="22" y1="225.31" x2="23.5" y2="225.31" stroke="#505050" stroke-width="0.95"/><line x1="22" y1="221.08" x2="23.5" y2="221.08" stroke="#505050" stroke-width="0.95"/><line x1="22" y1="216.86" x2="23.5" y2="216.86" stroke="#505050" stroke-width="0.95"/><line x1="22" y1="212.63" x2="23.5" y2="212.63" stroke="#505050" stroke-width="0.95"/><line x1="21" y1="208.4" x2="24.1" y2="208.4" stroke="#505050" stroke-width="0.95"/><text x="19" y="209.9" text-anchor="end" class="ty">1</text><line x1="22" y1="204.17" x2="23.5" y2="204.17" stroke="#505050" stroke-width="0.95"/><line x1="22" y1="199.94" x2="23.5" y2="199.94" stroke="#505050" stroke-width="0.95"/><line x1="31.99" y1="324.7" x2="31.99" y2="326" stroke="#505050" stroke-width="0.95"/><line x1="40.67" y1="324.7" x2="40.67" y2="326" stroke="#505050" stroke-width="0.95"/><line x1="49.36" y1="324.7" x2="49.36" y2="326" stroke="#505050" stroke-width="0.95"/><line x1="58.04" y1="324.7" x2="58.04" y2="326" stroke="#505050" stroke-width="0.95"/><line x1="66.73" y1="323.9" x2="66.73" y2="327" stroke="#505050" stroke-width="0.95"/><text x="66.73" y="331.5" text-anchor="middle" class="tx">0.05</text><line x1="75.42" y1="324.7" x2="75.42" y2="326" stroke="#505050" stroke-width="0.95"/><line x1="84.1" y1="324.7" x2="84.1" y2="326" stroke="#505050" stroke-width="0.95"/><line x1="92.79" y1="324.7" x2="92.79" y2="326" stroke="#505050" stroke-width="0.95"/><line x1="101.47" y1="324.7" x2="101.47" y2="326" stroke="#505050" stroke-width="0.95"/><line x1="110.16" y1="323.9" x2="110.16" y2="327" stroke="#505050" stroke-width="0.95"/><text x="110.16" y="331.5" text-anchor="middle" class="tx">0.1</text><line x1="118.85" y1="324.7" x2="118.85" y2="326" stroke="#505050" stroke-width="0.95"/><line x1="127.53" y1="324.7" x2="127.53" y2="326" stroke="#505050" stroke-width="0.95"/><line x1="136.22" y1="324.7" x2="136.22" y2="326" stroke="#505050" stroke-width="0.95"/><line x1="144.9" y1="324.7" x2="144.9" y2="326" stroke="#505050" stroke-width="0.95"/><line x1="153.59" y1="323.9" x2="153.59" y2="327" stroke="#505050" stroke-width="0.95"/><text x="153.59" y="331.5" text-anchor="middle" class="tx">0.15</text><line x1="162.28" y1="324.7" x2="162.28" y2="326" stroke="#505050" stroke-width="0.95"/><line x1="170.96" y1="324.7" x2="170.96" y2="326" stroke="#505050" stroke-width="0.95"/><line x1="179.65" y1="324.7" x2="179.65" y2="326" stroke="#505050" stroke-width="0.95"/><line x1="188.33" y1="324.7" x2="188.33" y2="326" stroke="#505050" stroke-width="0.95"/><line x1="197.02" y1="323.9" x2="197.02" y2="327" stroke="#505050" stroke-width="0.95"/><text x="197.02" y="331.5" text-anchor="middle" class="tx">0.2</text><line x1="205.71" y1="324.7" x2="205.71" y2="326" stroke="#505050" stroke-width="0.95"/><line x1="214.39" y1="324.7" x2="214.39" y2="326" stroke="#505050" stroke-width="0.95"/><line x1="223.08" y1="324.7" x2="223.08" y2="326" stroke="#505050" stroke-width="0.95"/><line x1="231.76" y1="324.7" x2="231.76" y2="326" stroke="#505050" stroke-width="0.95"/><line x1="240.45" y1="323.9" x2="240.45" y2="327" stroke="#505050" stroke-width="0.95"/><text x="240.45" y="331.5" text-anchor="middle" class="tx">0.25</text><line x1="249.14" y1="324.7" x2="249.14" y2="326" stroke="#505050" stroke-width="0.95"/><line x1="257.82" y1="324.7" x2="257.82" y2="326" stroke="#505050" stroke-width="0.95"/><line x1="266.51" y1="324.7" x2="266.51" y2="326" stroke="#505050" stroke-width="0.95"/><text x="148.1" y="340.1" text-anchor="middle" class="al">time[h]</text><text x="9.2" y="261.25" text-anchor="middle" class="al yl" transform="rotate(-90 9.2 261.25)">afi_3</text><text x="23.5" y="193.7" class="ti">afi_3 (Advanced Failure Indicator)</text><line x1="295.3" y1="197.9" x2="543.1" y2="197.9" stroke="#f1f1f1" stroke-width="0.9"/><polygon points="309.8,271.6 312.73,271.62 315.65,271.64 318.58,271.67 321.51,271.69 324.43,271.72 327.36,271.76 330.29,271.79 333.21,271.83 336.14,271.87 339.07,271.91 341.99,271.95 344.92,272 347.85,272.05 350.77,272.1 353.7,272.15 356.63,272.2 359.55,272.26 362.48,272.31 365.41,272.37 368.33,272.43 371.26,272.49 374.18,272.56 377.11,272.62 380.04,272.68 382.96,272.75 385.89,272.82 388.82,272.89 391.74,272.95 394.67,273.02 397.6,273.09 400.52,273.17 403.45,273.24 406.38,273.31 409.3,273.38 412.23,273.46 415.16,273.54 418.08,273.63 421.01,273.72 423.94,273.83 426.86,273.93 429.79,274.04 432.72,274.15 435.64,274.27 438.57,274.39 441.5,274.51 444.42,274.63 447.35,274.76 450.28,274.88 453.2,275 456.13,275.12 459.06,275.24 461.98,275.36 464.91,275.47 467.84,275.58 470.76,275.69 473.69,275.79 476.62,275.88 479.54,275.97 482.47,276.05 485.39,276.13 488.32,276.21 491.25,276.29 494.17,276.38 497.1,276.49 500.03,276.6 502.95,276.72 505.88,276.86 508.81,277.01 511.73,277.2 514.66,277.43 517.59,277.72 520.51,278.29 523.44,279.19 526.37,280.25 529.29,281.35 532.22,282.66 535.15,284.09 538.07,285.26 541,286 541,299 538.07,298.58 535.15,297.93 532.22,297.15 529.29,296.39 526.37,295.71 523.44,295.03 520.51,294.42 517.59,293.93 514.66,293.55 511.73,293.22 508.81,292.94 505.88,292.68 502.95,292.44 500.03,292.2 497.1,291.96 494.17,291.71 491.25,291.47 488.32,291.23 485.39,291.01 482.47,290.81 479.54,290.66 476.62,290.55 473.69,290.5 470.76,290.47 467.84,290.44 464.91,290.42 461.98,290.4 459.06,290.39 456.13,290.37 453.2,290.35 450.28,290.34 447.35,290.33 444.42,290.32 441.5,290.31 438.57,290.3 435.64,290.29 432.72,290.28 429.79,290.28 426.86,290.27 423.94,290.26 421.01,290.25 418.08,290.24 415.16,290.22 412.23,290.21 409.3,290.2 406.38,290.18 403.45,290.17 400.52,290.15 397.6,290.13 394.67,290.12 391.74,290.1 388.82,290.09 385.89,290.07 382.96,290.05 380.04,290.04 377.11,290.02 374.18,290 371.26,289.99 368.33,289.97 365.41,289.95 362.48,289.94 359.55,289.92 356.63,289.9 353.7,289.88 350.77,289.86 347.85,289.85 344.92,289.83 341.99,289.81 339.07,289.79 336.14,289.77 333.21,289.75 330.29,289.74 327.36,289.72 324.43,289.7 321.51,289.68 318.58,289.66 315.65,289.64 312.73,289.62 309.8,289.6" fill="#e0f1e7"/><line x1="295.3" y1="314.1" x2="544.15" y2="314.1" stroke="#c4c4e4" stroke-width="1.3"/><polyline points="295.69,280.6 296.82,281.17 297.95,282.29 299.07,282.86 300.2,281.73 301.33,280.6 302.46,281.17 303.58,280.04 304.15,278.91 304.71,281.73 305.27,285.11 305.84,280.6 306.97,278.91 308.09,279.47 309.22,280.6 310.35,281.73 311.47,282.29 312.6,281.73 313.73,280.6 314.29,278.35 314.86,281.73 315.42,278.91 315.98,283.98 316.55,280.04 317.11,278.91 317.68,281.17 318.24,279.47 318.8,281.73 319.93,280.6 321.06,278.35 321.62,280.04 322.18,281.73 323.31,279.47 324.44,276.66 325.57,274.4 326.13,276.09 326.69,277.22 327.82,278.35 328.39,279.47 328.95,283.98 329.51,285.68 330.08,281.73 330.64,278.91 331.2,277.78 332.33,276.66 332.9,279.47 333.46,277.78 334.59,279.47 335.71,281.73 336.84,280.6 337.97,278.91 339.1,276.66 340.22,276.09 341.35,276.09 342.48,276.66 343.61,278.35 344.73,280.04 345.86,281.17 346.99,281.73 348.11,282.29 349.24,282.86 350.37,281.73 351.5,280.04 352.62,278.35 353.19,277.22 353.75,277.78 354.56,277.78 354.88,280.04 355.69,279.47 356.25,282.29 356.82,282.86 357.38,280.04 358.51,278.35 359.64,281.73 360.2,282.86 360.76,281.17 361.89,278.91 363.02,278.35 364.15,280.04 365.27,281.73 366.4,282.29 367.53,282.29 368.66,282.86 369.78,282.86 370.91,282.29 372.04,281.73 373.17,278.35 374.29,274.97 374.86,273.84 375.42,274.97 376.55,279.47 377.68,281.73 378.8,280.04 379.93,277.22 381.06,278.35 382.18,283.42 382.75,284.55 383.31,281.73 384.44,279.47 385.57,282.29 386.69,285.68 387.26,285.11 387.82,283.98 388.95,283.42 390.08,282.86 391.2,282.29 392.33,280.6 393.46,280.6 394.59,278.35 395.15,276.66 395.71,278.91 396.84,281.17 397.97,281.73 399.1,281.17 400.22,282.29 401.35,282.86 402.48,281.73 403.61,280.04 404.73,279.47 405.86,280.6 406.99,281.73 408.11,282.86 409.24,283.98 410.37,282.86 411.5,281.73 412.62,280.6 413.75,281.73 414.56,279.81 414.88,281.17 416.25,280.6 417.38,280.04 418.51,281.73 419.07,283.98 419.64,280.04 420.2,275.53 420.76,274.4 421.33,278.91 421.89,281.17 423.02,280.04 424.15,281.17 425.27,282.29 426.4,282.86 427.53,284.55 428.66,285.68 429.22,286.24 429.78,283.42 430.91,281.17 432.04,280.04 433.17,281.73 434.29,283.42 435.42,282.29 436.55,280.6 437.68,281.17 438.8,282.86 439.93,281.73 441.06,279.47 441.62,280.6 442.18,283.42 442.75,282.29 443.31,278.35 443.88,277.78 444.44,279.47 445.57,281.17 446.69,280.6 447.82,280.04 448.95,278.91 450.08,277.78 451.2,276.09 451.77,276.66 452.33,278.91 453.46,281.73 454.02,283.98 454.59,282.86 455.71,280.6 456.84,281.73 457.97,280.04 458.53,278.91 459.1,278.35 460.22,281.17 461.35,283.98 461.91,284.55 462.48,282.29 463.61,280.04 464.73,280.6 465.86,281.73 466.99,278.91 467.55,277.78 468.11,280.04 469.24,281.73 470.37,281.17 471.5,281.17 472.62,281.73 473.75,282.29 474.64,282.44 475.27,282.82 476.55,284.09 477.82,282.18 479.09,281.55 480.36,283.45 481.64,282.82 482.91,284.73 484.18,288.55 484.82,286 485.45,281.55 486.09,280.27 486.73,282.82 488,284.09 489.27,285.36 490.55,284.73 491.82,285.36 493.09,286.64 494.36,286 495.64,282.82 496.27,287.27 496.91,284.73 497.55,277.73 498.18,280.27 499.46,282.82 500.73,281.55 502,283.45 503.27,284.09 504.55,281.55 505.82,283.45 507.09,285.36 507.73,281.55 508.36,280.27 509,284.09 509.64,284.73 510.91,283.45 512.18,284.73 513.46,285.36 514.73,284.09 516,285.36 517.27,284.09 517.91,280.91 518.55,282.18 519.82,286 521.09,287.91 522.36,286.64 523.64,287.27 524.91,289.18 526.18,290.46 527.46,291.73 528.73,291.09 530,292.36 531.27,293.64 532.55,293 533.82,294.27 535.09,295.55 536.36,294.91 537.64,296.18 538.91,296.18 540.18,296.82 540.82,297.46 541.46,296.18 542.09,294.91" fill="none" stroke="#4aa3d0" stroke-width="1.1" stroke-linejoin="round"/><line x1="541.29" y1="197.9" x2="541.29" y2="324.7" stroke="#ff1a1a" stroke-width="1.3" stroke-dasharray="2.2,2.5"/><line x1="295.3" y1="197.9" x2="295.3" y2="324.7" stroke="#7a7a7a" stroke-width="0.75"/><line x1="295.3" y1="324.7" x2="543.1" y2="324.7" stroke="#7a7a7a" stroke-width="0.75"/><line x1="294" y1="322.56" x2="295.5" y2="322.56" stroke="#505050" stroke-width="0.95"/><line x1="294" y1="318.33" x2="295.5" y2="318.33" stroke="#505050" stroke-width="0.95"/><line x1="293" y1="314.1" x2="296.1" y2="314.1" stroke="#505050" stroke-width="0.95"/><text x="291" y="315.6" text-anchor="end" class="ty">0</text><line x1="294" y1="309.87" x2="295.5" y2="309.87" stroke="#505050" stroke-width="0.95"/><line x1="294" y1="305.64" x2="295.5" y2="305.64" stroke="#505050" stroke-width="0.95"/><line x1="294" y1="301.42" x2="295.5" y2="301.42" stroke="#505050" stroke-width="0.95"/><line x1="294" y1="297.19" x2="295.5" y2="297.19" stroke="#505050" stroke-width="0.95"/><line x1="293" y1="292.96" x2="296.1" y2="292.96" stroke="#505050" stroke-width="0.95"/><text x="291" y="294.46" text-anchor="end" class="ty">0.2</text><line x1="294" y1="288.73" x2="295.5" y2="288.73" stroke="#505050" stroke-width="0.95"/><line x1="294" y1="284.5" x2="295.5" y2="284.5" stroke="#505050" stroke-width="0.95"/><line x1="294" y1="280.28" x2="295.5" y2="280.28" stroke="#505050" stroke-width="0.95"/><line x1="294" y1="276.05" x2="295.5" y2="276.05" stroke="#505050" stroke-width="0.95"/><line x1="293" y1="271.82" x2="296.1" y2="271.82" stroke="#505050" stroke-width="0.95"/><text x="291" y="273.32" text-anchor="end" class="ty">0.4</text><line x1="294" y1="267.59" x2="295.5" y2="267.59" stroke="#505050" stroke-width="0.95"/><line x1="294" y1="263.36" x2="295.5" y2="263.36" stroke="#505050" stroke-width="0.95"/><line x1="294" y1="259.14" x2="295.5" y2="259.14" stroke="#505050" stroke-width="0.95"/><line x1="294" y1="254.91" x2="295.5" y2="254.91" stroke="#505050" stroke-width="0.95"/><line x1="293" y1="250.68" x2="296.1" y2="250.68" stroke="#505050" stroke-width="0.95"/><text x="291" y="252.18" text-anchor="end" class="ty">0.6</text><line x1="294" y1="246.45" x2="295.5" y2="246.45" stroke="#505050" stroke-width="0.95"/><line x1="294" y1="242.22" x2="295.5" y2="242.22" stroke="#505050" stroke-width="0.95"/><line x1="294" y1="238" x2="295.5" y2="238" stroke="#505050" stroke-width="0.95"/><line x1="294" y1="233.77" x2="295.5" y2="233.77" stroke="#505050" stroke-width="0.95"/><line x1="293" y1="229.54" x2="296.1" y2="229.54" stroke="#505050" stroke-width="0.95"/><text x="291" y="231.04" text-anchor="end" class="ty">0.8</text><line x1="294" y1="225.31" x2="295.5" y2="225.31" stroke="#505050" stroke-width="0.95"/><line x1="294" y1="221.08" x2="295.5" y2="221.08" stroke="#505050" stroke-width="0.95"/><line x1="294" y1="216.86" x2="295.5" y2="216.86" stroke="#505050" stroke-width="0.95"/><line x1="294" y1="212.63" x2="295.5" y2="212.63" stroke="#505050" stroke-width="0.95"/><line x1="293" y1="208.4" x2="296.1" y2="208.4" stroke="#505050" stroke-width="0.95"/><text x="291" y="209.9" text-anchor="end" class="ty">1</text><line x1="294" y1="204.17" x2="295.5" y2="204.17" stroke="#505050" stroke-width="0.95"/><line x1="294" y1="199.94" x2="295.5" y2="199.94" stroke="#505050" stroke-width="0.95"/><line x1="303.99" y1="324.7" x2="303.99" y2="326" stroke="#505050" stroke-width="0.95"/><line x1="312.67" y1="324.7" x2="312.67" y2="326" stroke="#505050" stroke-width="0.95"/><line x1="321.36" y1="324.7" x2="321.36" y2="326" stroke="#505050" stroke-width="0.95"/><line x1="330.04" y1="324.7" x2="330.04" y2="326" stroke="#505050" stroke-width="0.95"/><line x1="338.73" y1="323.9" x2="338.73" y2="327" stroke="#505050" stroke-width="0.95"/><text x="338.73" y="331.5" text-anchor="middle" class="tx">0.05</text><line x1="347.42" y1="324.7" x2="347.42" y2="326" stroke="#505050" stroke-width="0.95"/><line x1="356.1" y1="324.7" x2="356.1" y2="326" stroke="#505050" stroke-width="0.95"/><line x1="364.79" y1="324.7" x2="364.79" y2="326" stroke="#505050" stroke-width="0.95"/><line x1="373.47" y1="324.7" x2="373.47" y2="326" stroke="#505050" stroke-width="0.95"/><line x1="382.16" y1="323.9" x2="382.16" y2="327" stroke="#505050" stroke-width="0.95"/><text x="382.16" y="331.5" text-anchor="middle" class="tx">0.1</text><line x1="390.85" y1="324.7" x2="390.85" y2="326" stroke="#505050" stroke-width="0.95"/><line x1="399.53" y1="324.7" x2="399.53" y2="326" stroke="#505050" stroke-width="0.95"/><line x1="408.22" y1="324.7" x2="408.22" y2="326" stroke="#505050" stroke-width="0.95"/><line x1="416.9" y1="324.7" x2="416.9" y2="326" stroke="#505050" stroke-width="0.95"/><line x1="425.59" y1="323.9" x2="425.59" y2="327" stroke="#505050" stroke-width="0.95"/><text x="425.59" y="331.5" text-anchor="middle" class="tx">0.15</text><line x1="434.28" y1="324.7" x2="434.28" y2="326" stroke="#505050" stroke-width="0.95"/><line x1="442.96" y1="324.7" x2="442.96" y2="326" stroke="#505050" stroke-width="0.95"/><line x1="451.65" y1="324.7" x2="451.65" y2="326" stroke="#505050" stroke-width="0.95"/><line x1="460.33" y1="324.7" x2="460.33" y2="326" stroke="#505050" stroke-width="0.95"/><line x1="469.02" y1="323.9" x2="469.02" y2="327" stroke="#505050" stroke-width="0.95"/><text x="469.02" y="331.5" text-anchor="middle" class="tx">0.2</text><line x1="477.71" y1="324.7" x2="477.71" y2="326" stroke="#505050" stroke-width="0.95"/><line x1="486.39" y1="324.7" x2="486.39" y2="326" stroke="#505050" stroke-width="0.95"/><line x1="495.08" y1="324.7" x2="495.08" y2="326" stroke="#505050" stroke-width="0.95"/><line x1="503.76" y1="324.7" x2="503.76" y2="326" stroke="#505050" stroke-width="0.95"/><line x1="512.45" y1="323.9" x2="512.45" y2="327" stroke="#505050" stroke-width="0.95"/><text x="512.45" y="331.5" text-anchor="middle" class="tx">0.25</text><line x1="521.14" y1="324.7" x2="521.14" y2="326" stroke="#505050" stroke-width="0.95"/><line x1="529.82" y1="324.7" x2="529.82" y2="326" stroke="#505050" stroke-width="0.95"/><line x1="538.51" y1="324.7" x2="538.51" y2="326" stroke="#505050" stroke-width="0.95"/><text x="420.1" y="340.1" text-anchor="middle" class="al">time[h]</text><text x="281.2" y="261.25" text-anchor="middle" class="al yl" transform="rotate(-90 281.2 261.25)">afi_4</text><text x="295.5" y="193.7" class="ti">afi_4 (Advanced Failure Indicator)</text><g stroke="#9a9a9a" stroke-width="0.9" fill="none"><line x1="470.2" y1="23.9" x2="475.40000000000003" y2="23.9"/><line x1="472.8" y1="21.299999999999997" x2="472.8" y2="26.5"/></g><g fill="#9a9a9a"><polygon points="469.5,23.9 470.8,22.599999999999998 470.8,25.2"/><polygon points="476.1,23.9 474.8,22.599999999999998 474.8,25.2"/><polygon points="472.8,20.599999999999998 471.5,21.9 474.1,21.9"/><polygon points="472.8,27.2 471.5,25.9 474.1,25.9"/></g><rect x="466.9" y="28.9" width="11.8" height="1" fill="#26aae1"/><g stroke="#b8b8b8" stroke-width="0.7" fill="none"><path d="M483 20.6 h-1.2 v6.3 h6.1"/><circle cx="485.8" cy="22.7" r="1.9"/><line x1="484.5" y1="24.1" x2="482.9" y2="25.8" stroke-width="1"/></g><line x1="490.2" y1="22.3" x2="490.2" y2="25.6" stroke="#dadada" stroke-width="0.6"/><line x1="502.3" y1="22.3" x2="502.3" y2="25.6" stroke="#dadada" stroke-width="0.6"/><line x1="526.3" y1="22.3" x2="526.3" y2="25.6" stroke="#dadada" stroke-width="0.6"/><g stroke="#a5a5a5" stroke-width="0.8" fill="none"><circle cx="497.6" cy="23" r="1.9"/><ellipse cx="494.5" cy="24.6" rx="1.3" ry="2"/></g><g><rect x="505.1" y="20.4" width="6.3" height="7.1" fill="none" stroke="#c4c4c4" stroke-width="0.7"/><rect x="505.4" y="20.7" width="5.7" height="3.4" fill="#d0d0d0"/><rect x="507.2" y="21.1" width="1.3" height="1.6" fill="#f4f4f4"/></g><g stroke="#ababab" stroke-width="0.8" fill="none"><path d="M522.6 22.9 A2.7 2.7 0 0 0 517.5 23.2"/><path d="M517.6 25.0 A2.7 2.7 0 0 0 522.7 24.8"/></g><g fill="#ababab"><polygon points="523.3,21.8 523.3,23.9 521.3,23.4"/><polygon points="516.9,26.2 516.9,24.1 518.9,24.6"/></g><g><path d="M529.2 21.2 h5.4 v4.0 l-1.2 1.2 h-3.0 l-1.2 -1.2 z" fill="#cfcfcf"/><rect x="530.4" y="22.5" width="3" height="2.3" fill="none" stroke="#a9a9a9" stroke-width="0.5"/></g><rect x="525.8" y="28.9" width="12.1" height="1" fill="#26aae1"/><path d="M542.43 20.36 A3.9 3.9 0 0 1 545.47 20.36 L544.58 22.48 A1.6 1.6 0 0 0 543.32 22.48 Z" fill="#34c43a"/><path d="M545.41 20.33 A3.9 3.9 0 0 1 547.57 22.49 L545.43 23.35 A1.6 1.6 0 0 0 544.55 22.47 Z" fill="#14b8b0"/><path d="M547.54 22.43 A3.9 3.9 0 0 1 547.54 25.47 L545.42 24.58 A1.6 1.6 0 0 0 545.42 23.32 Z" fill="#1ea6e0"/><path d="M547.57 25.41 A3.9 3.9 0 0 1 545.41 27.57 L544.55 25.43 A1.6 1.6 0 0 0 545.43 24.55 Z" fill="#9a3cc8"/><path d="M545.47 27.54 A3.9 3.9 0 0 1 542.43 27.54 L543.32 25.42 A1.6 1.6 0 0 0 544.58 25.42 Z" fill="#ff1f6a"/><path d="M542.49 27.57 A3.9 3.9 0 0 1 540.33 25.41 L542.47 24.55 A1.6 1.6 0 0 0 543.35 25.43 Z" fill="#ff3a20"/><path d="M540.36 25.47 A3.9 3.9 0 0 1 540.36 22.43 L542.48 23.32 A1.6 1.6 0 0 0 542.48 24.58 Z" fill="#ff8a10"/><path d="M540.33 22.49 A3.9 3.9 0 0 1 542.49 20.33 L543.35 22.47 A1.6 1.6 0 0 0 542.47 23.35 Z" fill="#a8d020"/></svg>
</body></html>
